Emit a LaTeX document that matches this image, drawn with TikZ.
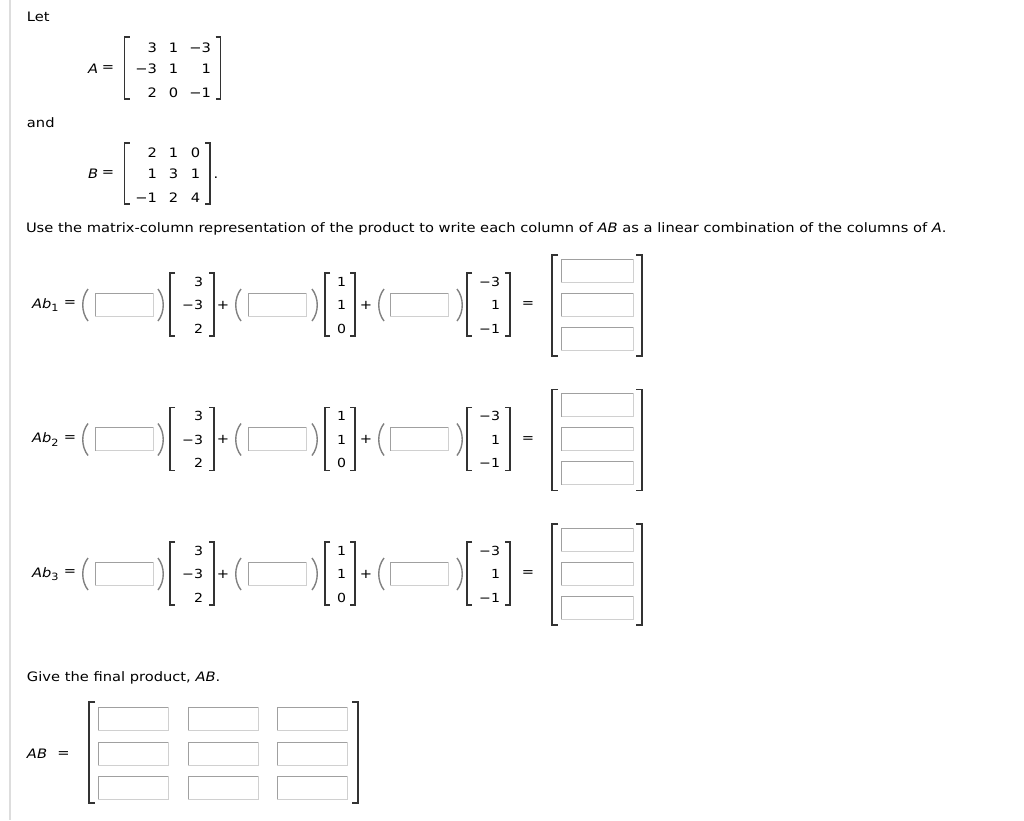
\documentclass[tikz,border=0pt]{standalone}
\usepackage{fontspec}
\setmainfont{DejaVu Sans}[FakeStretch=1.128]
\definecolor{textcol}{HTML}{000000}
\definecolor{brkcol}{HTML}{333333}
\definecolor{parcol}{HTML}{808080}
\definecolor{boxlight}{HTML}{D0D0D0}
\definecolor{boxdarkc}{HTML}{A0A0A0}
\definecolor{bordercol}{HTML}{DDDDDD}
\tikzset{
  txt/.style={inner sep=0pt, outer sep=0pt, font=\fontsize{13}{15}\selectfont, text=textcol},
  num/.style={inner sep=0pt, outer sep=0pt, font=\fontsize{12.5}{15}\selectfont, text=textcol},
  brk/.style={draw=brkcol, line width=1.4pt},
  parline/.style={draw=parcol, line width=1.4pt},
  inbox/.style={draw=boxlight, line width=1pt, inner sep=0pt, outer sep=0pt, anchor=north west, minimum height=23pt},
  boxedge/.style={draw=boxdarkc, line width=1pt},
  leftborder/.style={draw=bordercol, line width=2pt}
}
% input box with darker top/left edge
\newcommand\inputbox[4]{% name, x, y, width
  \node[inbox, minimum width=#4pt] (#1) at (#2,#3) {};
  \draw[boxedge] (#1.south west) |- (#1.north east);
}
\newcommand\lbrk[4]{% x, top, bottom, tick
  \draw[brk] (#1+#4,#2) -- (#1,#2) -- (#1,#3) -- (#1+#4,#3);
}
\newcommand\rbrk[4]{%
  \draw[brk] (#1-#4,#2) -- (#1,#2) -- (#1,#3) -- (#1-#4,#3);
}
\newcommand\lpar[3]{% x(left), top, bottom
  \draw[parline] (#1+6,#2) .. controls (#1-1,#2+9) and (#1-1,#3-9) .. (#1+6,#3);
}
\newcommand\rpar[3]{% x(right), top, bottom
  \draw[parline] (#1-6,#2) .. controls (#1+1,#2+9) and (#1+1,#3-9) .. (#1-6,#3);
}
\newcommand\prodrow[2]{% index, vertical offset
\begin{scope}[yshift=-#2pt]
  \node[txt, anchor=base west] (ab#1) at (32,308) {\textit{Ab}\raisebox{-3.5pt}{\fontsize{10}{10}\selectfont #1}};
  \node[txt] (eqa#1) at (70,304) {=};
  % first term
  \lpar{82}{289}{321}
  \inputbox{ca#1}{95}{293}{58}
  \rpar{164}{289}{321}
  \lbrk{170}{273}{336}{5}
  \node[num, anchor=base east] (va1#1) at (203,286) {3};
  \node[num, anchor=base east] (va2#1) at (203,309.5) {−3};
  \node[num, anchor=base east] (va3#1) at (203,333) {2};
  \rbrk{214}{273}{336}{5}
  \node[txt] (pa#1) at (223,305) {+};
  % second term
  \lpar{235}{289}{321}
  \inputbox{cb#1}{248}{293}{58}
  \rpar{318}{289}{321}
  \lbrk{325}{273}{336}{5}
  \node[num, anchor=base] (vb1#1) at (341.5,286) {1};
  \node[num, anchor=base] (vb2#1) at (341.5,309.5) {1};
  \node[num, anchor=base] (vb3#1) at (341.5,333) {0};
  \rbrk{355}{273}{336}{5}
  \node[txt] (pb#1) at (366,305) {+};
  % third term
  \lpar{378}{289}{321}
  \inputbox{cc#1}{390}{293}{58}
  \rpar{463}{289}{321}
  \lbrk{467}{273}{336}{5}
  \node[num, anchor=base east] (vc1#1) at (500,286) {−3};
  \node[num, anchor=base east] (vc2#1) at (500,309.5) {1};
  \node[num, anchor=base east] (vc3#1) at (500,333) {−1};
  \rbrk{510}{273}{336}{5}
  \node[txt] (eqb#1) at (528,305) {=};
  % result column
  \lbrk{552}{255}{356}{6}
  \inputbox{r1#1}{561}{259}{72}
  \inputbox{r2#1}{561}{293}{72}
  \inputbox{r3#1}{561}{327}{72}
  \rbrk{642}{255}{356}{6}
\end{scope}}
\begin{document}
\begin{tikzpicture}[x=1pt,y=-1pt]
\useasboundingbox (0,0) rectangle (1024,820);
\fill[white] (0,0) rectangle (1024,820);
\draw[leftborder] (9.5,0) -- (9.5,820);

\node[txt, anchor=base west] (let) at (27,21) {Let};
% matrix A
\node[txt, anchor=base west] (Aname) at (88,73) {\textit{A}};
\node[txt] (Aeq) at (108,69) {=};
\lbrk{124.5}{37}{99}{5}
\rbrk{220.5}{37}{99}{5}
\node[txt, anchor=base east] (a11) at (157,52) {3};
\node[txt, anchor=base] (a12) at (173.5,52) {1};
\node[txt, anchor=base east] (a13) at (211,52) {−3};
\node[txt, anchor=base east] (a21) at (157,73.5) {−3};
\node[txt, anchor=base] (a22) at (173.5,73.5) {1};
\node[txt, anchor=base east] (a23) at (211,73.5) {1};
\node[txt, anchor=base east] (a31) at (157,97) {2};
\node[txt, anchor=base] (a32) at (173.5,97) {0};
\node[txt, anchor=base east] (a33) at (211,97) {−1};

\node[txt, anchor=base west] (and) at (27,127) {and};
% matrix B
\node[txt, anchor=base west] (Bname) at (88,178) {\textit{B}};
\node[txt] (Beq) at (108,173.5) {=};
\lbrk{124.5}{143}{204}{5}
\rbrk{210}{143}{204}{5}
\node[txt, anchor=base east] (b11) at (157,157) {2};
\node[txt, anchor=base] (b12) at (173.5,157) {1};
\node[txt, anchor=base] (b13) at (195.5,157) {0};
\node[txt, anchor=base east] (b21) at (157,178.5) {1};
\node[txt, anchor=base] (b22) at (173.5,178.5) {3};
\node[txt, anchor=base] (b23) at (195.5,178.5) {1};
\node[txt, anchor=base east] (b31) at (157,202) {−1};
\node[txt, anchor=base] (b32) at (173.5,202) {2};
\node[txt, anchor=base] (b33) at (195.5,202) {4};
\node[txt, anchor=base west] (Bdot) at (213.5,178.5) {.};

\node[txt, anchor=base west] (instr) at (26,232) {Use the matrix-column representation of the product to write each column of \textit{AB} as a linear combination of the columns of \textit{A}.};

\prodrow{1}{0}
\prodrow{2}{134.5}
\prodrow{3}{269}

\node[txt, anchor=base west] (give) at (27,681) {Give the final product, \textit{AB}.};
\node[txt, anchor=base west] (ABname) at (27,758) {\textit{AB}};
\node[txt] (ABeq) at (63.5,754.5) {=};
\lbrk{89}{702}{803}{6}
\rbrk{358}{702}{803}{6}
\inputbox{m11}{98}{707}{70}
\inputbox{m12}{188}{707}{70}
\inputbox{m13}{277}{707}{70}
\inputbox{m21}{98}{742}{70}
\inputbox{m22}{188}{742}{70}
\inputbox{m23}{277}{742}{70}
\inputbox{m31}{98}{776}{70}
\inputbox{m32}{188}{776}{70}
\inputbox{m33}{277}{776}{70}
\end{tikzpicture}
\end{document}
